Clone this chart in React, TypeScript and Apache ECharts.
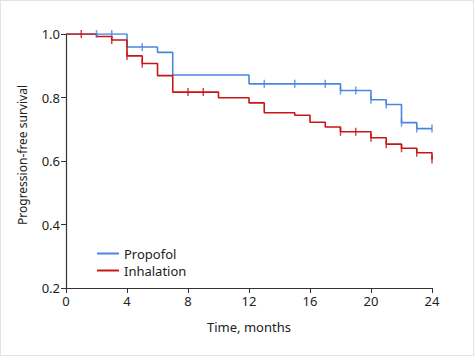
import React, { useEffect, useRef } from "react";
import * as echarts from "echarts";

// Kaplan–Meier step data: [time (months), survival]
const propofolTimes = [0, 4, 6, 7, 12, 18, 20, 21, 22, 23, 24];
const propofolValues = [1.0, 0.959, 0.942, 0.871, 0.843, 0.822, 0.793, 0.778, 0.721, 0.702, 0.702];
const inhalationTimes = [0, 2, 3, 4, 5, 6, 7, 10, 12, 13, 15, 16, 17, 18, 20, 21, 22, 23, 24];
const inhalationValues = [1.0, 0.992, 0.981, 0.931, 0.907, 0.869, 0.817, 0.799, 0.783, 0.752, 0.744, 0.722, 0.707, 0.692, 0.673, 0.653, 0.64, 0.626, 0.605];

// censoring marks (times)
const propofolCensor = [2, 3, 5, 13, 15, 17, 18, 19, 20, 21, 22, 23, 24];
const inhalationCensor = [1, 3, 4, 5, 8, 9, 18, 19, 20, 21, 22, 23, 24];

const xTicks = [0, 4, 8, 12, 16, 20, 24];
const yTicks = [0.2, 0.4, 0.6, 0.8, 1.0];

const seriesNames = ["Propofol", "Inhalation"];
const BLUE = "#4a86e0";
const RED = "#c81616";
const FONT = "Noto Sans";

function valueAt(times: number[], values: number[], t: number): number {
  let v = values[0];
  for (let i = 0; i < times.length; i++) {
    if (times[i] <= t) v = values[i];
  }
  return v;
}

export default function App() {
  const ref = useRef<HTMLDivElement>(null);
  useEffect(() => {
    if (!ref.current) return;
    const chart = echarts.init(ref.current, null, { renderer: "svg" });
    const pData = propofolTimes.map((t, i) => [t, propofolValues[i]]);
    const iData = inhalationTimes.map((t, i) => [t, inhalationValues[i]]);
    const pCens = propofolCensor.map((t) => [t, valueAt(propofolTimes, propofolValues, t)]);
    const iCens = inhalationCensor.map((t) => [t, valueAt(inhalationTimes, inhalationValues, t)]);
    const legendBase = {
      orient: "vertical",
      left: 91,
      itemWidth: 22,
      itemHeight: 2,
      itemGap: 0,
      textStyle: { fontFamily: FONT, fontSize: 13, color: "#222" },
    };
    chart.setOption({
      animation: false,
      backgroundColor: "#ffffff",
      textStyle: { fontFamily: FONT },
      grid: { left: 65, top: 33, right: 41, bottom: 67 },
      legend: [
        { ...legendBase, top: 241, data: [{ name: seriesNames[0], icon: "rect" }] },
        { ...legendBase, top: 258, data: [{ name: seriesNames[1], icon: "rect" }] },
      ],
      xAxis: {
        type: "value",
        min: xTicks[0],
        max: xTicks[xTicks.length - 1],
        interval: 4,
        name: "Time, months",
        nameLocation: "middle",
        nameGap: 32,
        nameTextStyle: { fontFamily: FONT, fontSize: 13, color: "#222" },
        axisLine: { show: true, lineStyle: { color: "#333", width: 1.2 } },
        axisTick: { show: true, length: 5, lineStyle: { color: "#333" } },
        axisLabel: { fontFamily: FONT, fontSize: 13, color: "#222", margin: 6 },
        splitLine: { show: false },
      },
      yAxis: {
        type: "value",
        min: yTicks[0],
        max: yTicks[yTicks.length - 1],
        interval: 0.2,
        name: "Progression-free survival",
        nameLocation: "middle",
        nameGap: 38,
        nameTextStyle: { fontFamily: FONT, fontSize: 12, color: "#222", padding: [0, 0, 0, 12] },
        axisLine: { show: true, lineStyle: { color: "#333", width: 1.2 } },
        axisTick: { show: true, length: 5, lineStyle: { color: "#333" } },
        axisLabel: {
          fontFamily: FONT,
          fontSize: 13,
          color: "#222",
          margin: 6,
          formatter: (v: number) => v.toFixed(1),
        },
        splitLine: { show: false },
      },
      series: [
        {
          name: seriesNames[0],
          type: "line",
          step: "end",
          data: pData,
          symbol: "none",
          lineStyle: { color: BLUE, width: 1.6 },
          itemStyle: { color: BLUE },
          z: 3,
        },
        {
          name: seriesNames[1],
          type: "line",
          step: "end",
          data: iData,
          symbol: "none",
          lineStyle: { color: RED, width: 1.6 },
          itemStyle: { color: RED },
          z: 3,
        },
        {
          name: "Propofol censored",
          type: "scatter",
          data: pCens,
          symbol: "rect",
          symbolSize: [1.5, 8],
          itemStyle: { color: BLUE },
          z: 4,
        },
        {
          name: "Inhalation censored",
          type: "scatter",
          data: iCens,
          symbol: "rect",
          symbolSize: [1.5, 8],
          itemStyle: { color: RED },
          z: 4,
        },
      ],
    });
    return () => chart.dispose();
  }, []);
  return (
    <div
      style={{
        position: "absolute",
        left: 0,
        top: 0,
        width: 474,
        height: 356,
        boxSizing: "border-box",
        border: "1px solid #e4e4e4",
        background: "#fff",
      }}
    >
      <div ref={ref} style={{ width: 472, height: 354 }} />
    </div>
  );
}
